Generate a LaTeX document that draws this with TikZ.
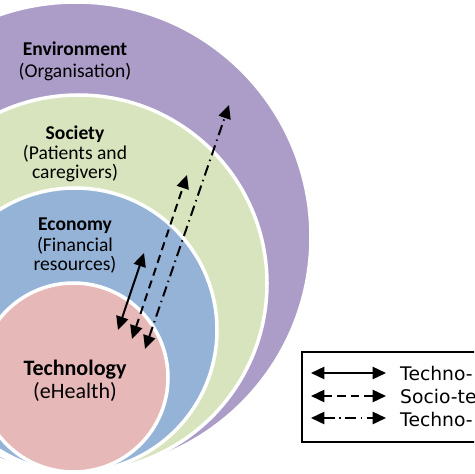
\documentclass[tikz,border=0pt]{standalone}
\usepackage{fontspec}
\setmainfont{Carlito}
\newfontfamily\legendfont{DejaVu Sans}
\usetikzlibrary{arrows.meta}
\definecolor{envcol}{HTML}{AC9DC8}
\definecolor{soccol}{HTML}{D7E4BD}
\definecolor{ecocol}{HTML}{95B3D7}
\definecolor{teccol}{HTML}{E6B9B8}
\begin{document}
\begin{tikzpicture}[x=0.03cm,y=-0.03cm,
  ring/.style={draw=white,line width=3pt},
  lbl/.style={inner sep=0pt,anchor=base,font=\fontsize{16.7}{20}\selectfont},
  lblb/.style={inner sep=0pt,anchor=base,font=\fontsize{16.7}{20}\selectfont\bfseries},
  tlbl/.style={inner sep=0pt,anchor=base,font=\fontsize{18.8}{22}\selectfont},
  tlblb/.style={inner sep=0pt,anchor=base,font=\fontsize{18.8}{22}\selectfont\bfseries},
  leg/.style={inner sep=0pt,anchor=base west,font=\legendfont\fontsize{16}{18}\selectfont},
  tip/.tip={Triangle[length=11.5pt,width=10.5pt]},
  link/.style={line width=1.7pt,tip-tip},
  dashlink/.style={link,dash pattern=on 7pt off 4.5pt},
  dotlink/.style={link,dash pattern=on 9pt off 4pt on 1.2pt off 4pt},
]
\useasboundingbox (0,0) rectangle (474,474);
\clip (0,0) rectangle (474,474);
% rings
\fill[white] (0,0) rectangle (474,474);
\draw[ring,fill=envcol] (76,237) circle[radius=235];
\draw[ring,fill=soccol] (78.5,283.5) circle[radius=188.5];
\draw[ring,fill=ecocol] (75,330) circle[radius=142];
\draw[ring,fill=teccol] (73.5,377.5) circle[radius=94.5];
% labels
\node[lblb] (env) at (75,55) {Environment};
\node[lbl] (envs) at (75,77) {(Organisation)};
\node[lblb] (soc) at (75,139) {Society};
\node[lbl] (socs1) at (75,159) {(Patients and};
\node[lbl] (socs2) at (75,178) {caregivers)};
\node[lblb] (eco) at (75,230) {Economy};
\node[lbl] (ecos1) at (75,251) {(Financial};
\node[lbl] (ecos2) at (75,270) {resources)};
\node[tlblb] (tec) at (75,375) {Technology};
\node[tlbl] (tecs) at (75,398) {(eHealth)};
% arrows
\coordinate (a1) at (118,330);
\coordinate (b1) at (144,253);
\coordinate (a2) at (132,339);
\coordinate (b2) at (187,175);
\coordinate (a3) at (145,349);
\coordinate (b3) at (229,105);
\draw[link] (a1) -- (b1);
\draw[dashlink] (a2) -- (b2);
\draw[dotlink] (a3) -- (b3);
% legend
\draw[line width=1.7pt] (302,352) rectangle (540,442);
\coordinate (la1) at (311,373);
\coordinate (lb1) at (386,373);
\coordinate (la2) at (311,396);
\coordinate (lb2) at (386,396);
\coordinate (la3) at (311,418);
\coordinate (lb3) at (386,418);
\draw[link] (la1) -- (lb1);
\draw[dashlink] (la2) -- (lb2);
\draw[dotlink] (la3) -- (lb3);
\node[leg] (t1) at (400,380) {Techno-};
\node[leg] (t2) at (400,403) {Socio-te};
\node[leg] (t3) at (400,426) {Techno-};
\end{tikzpicture}
\end{document}
